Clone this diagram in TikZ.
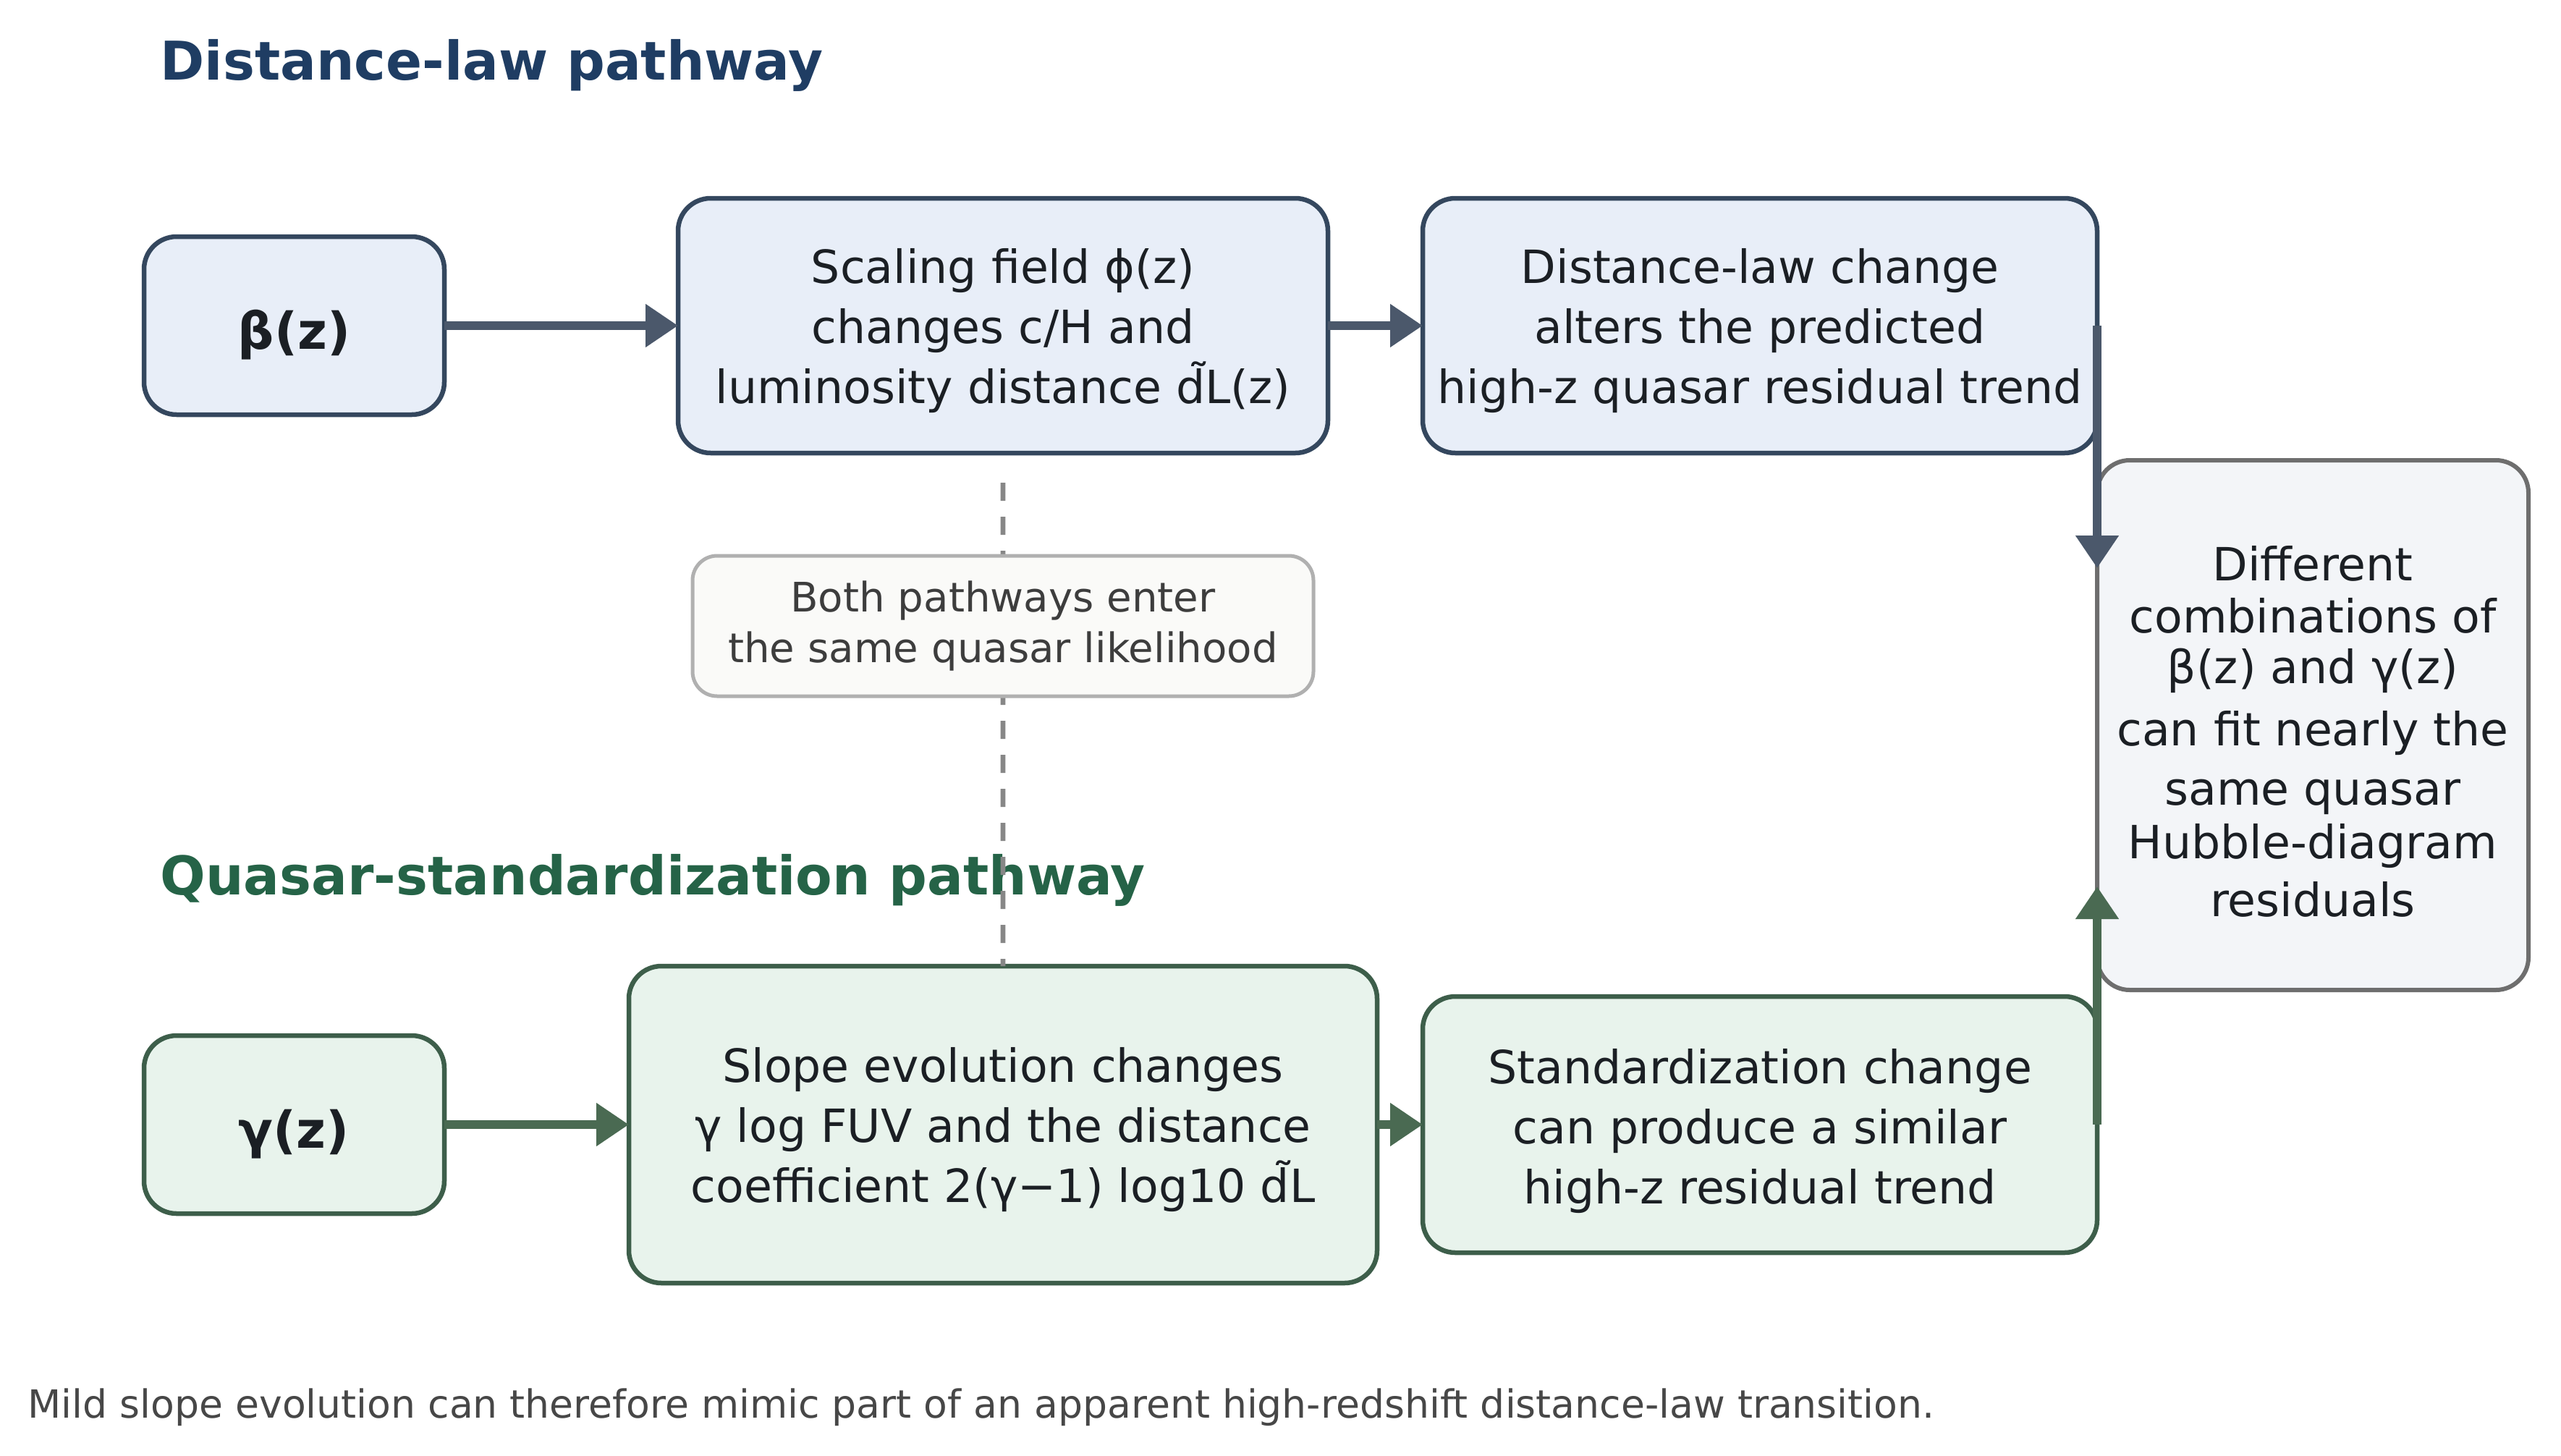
\documentclass[tikz,border=0pt]{standalone}
\usepackage{fontspec}
\setmainfont{DejaVu Sans}
\usetikzlibrary{arrows.meta,positioning}
\definecolor{cdl}{RGB}{52,71,94}
\definecolor{cdlfill}{RGB}{232,238,248}
\definecolor{cdlarr}{RGB}{75,88,107}
\definecolor{cdltitle}{RGB}{31,61,99}
\definecolor{cqs}{RGB}{61,94,74}
\definecolor{cqsfill}{RGB}{232,243,236}
\definecolor{cqsarr}{RGB}{74,106,82}
\definecolor{cqstitle}{RGB}{37,99,71}
\definecolor{cres}{RGB}{110,110,110}
\definecolor{cresfill}{RGB}{243,245,248}
\definecolor{cnote}{RGB}{176,176,176}
\definecolor{cnotefill}{RGB}{250,250,248}
\definecolor{ctext}{RGB}{27,31,36}
% taller first line, pushes a centred text block down a little
\newcommand{\liftline}[1][17.7pt]{\rule{0pt}{#1}}
\tikzset{
  box/.style={rectangle,rounded corners=0.45cm,line width=0.065cm,inner sep=0pt,
    outer sep=0pt,align=center,text=ctext,font=\fontsize{18}{23.7}\selectfont},
  % distance-law pathway in blue, standardization pathway in green
  dl/.style={fill=cdlfill,draw=cdl},
  qs/.style={fill=cqsfill,draw=cqs},
  res/.style={fill=cresfill,draw=cres,line width=0.06cm},
  var/.style={font=\fontsize{20}{24}\selectfont\bfseries,
    execute at begin node={\rule{0pt}{22.8pt}}},
  note/.style={rectangle,rounded corners=0.34cm,fill=cnotefill,draw=cnote,
    line width=0.05cm,inner sep=0pt,outer sep=0pt,align=center,text=black!76,
    font=\fontsize{16}{19.8}\selectfont},
  head/.style={anchor=west,inner sep=0pt,font=\fontsize{21}{25}\selectfont\bfseries},
  link/.style={draw=black!47,line width=0.067cm,dash pattern=on 0.25cm off 0.22cm},
  arr/.style={-{Triangle[length=0.45cm,width=0.57cm]},line width=0.12cm}
}
\begin{document}
\begin{tikzpicture}[node distance=1cm]
  \useasboundingbox (0,0) rectangle (35.39,-20.12);
  \node[head,text=cdltitle] (t1) at (2.21,-0.905) {Distance-law pathway};
  \node[box,dl,var,minimum width=4.15cm,minimum height=2.46cm] (beta) at (4.065,-4.50) {β(z)};
  \node[box,dl,minimum width=8.98cm,minimum height=3.52cm,right=3.23cm of beta] (scal)
    {\liftline Scaling field ϕ(z)\\changes c/H and\\luminosity distance d̃L(z)};
  \node[box,dl,minimum width=9.32cm,minimum height=3.52cm,right=1.31cm of scal] (dist)
    {\liftline Distance-law change\\alters the predicted\\high-z quasar residual trend};

  \node[head,text=cqstitle] (t2) at (2.21,-12.165) {Quasar-standardization pathway};
  \node[box,qs,var,minimum width=4.15cm,minimum height=2.46cm,below=8.58cm of beta] (gam) {γ(z)};
  \node[box,qs,minimum width=10.34cm,minimum height=4.38cm,right=2.55cm of gam] (slope)
    {\liftline Slope evolution changes\\γ log FUV and the distance\\coefficient 2(γ−1) log10 d̃L};
  \node[box,qs,minimum width=9.32cm,minimum height=3.54cm,right=0.63cm of slope] (std)
    {\liftline[18.8pt]Standardization change\\can produce a similar\\high-z residual trend};

  \node[box,res,minimum width=5.96cm,minimum height=7.32cm,font=\fontsize{18}{19.9}\selectfont]
    (fit) at (31.96,-10.02)
    {\liftline[18.8pt]Different\\[0.6pt]combinations of\\β(z) and γ(z)\\[4.5pt]can fit nearly the\\[3.7pt]same quasar\\[0.9pt]Hubble-diagram\\[3.1pt]residuals};

  \draw[link] ([yshift=-0.41cm]scal.south) -- (slope.north);
  \node[note,minimum width=8.58cm,minimum height=1.94cm,below=1.42cm of scal] (both)
    {Both pathways enter\\the same quasar likelihood};

  \draw[arr,cdlarr] (beta) -- (scal);
  \draw[arr,cdlarr] (scal) -- (dist);
  \coordinate (dtip) at (dist.east |- 0,-7.85);
  \draw[arr,cdlarr] (dist.east) -- (dtip);
  \draw[arr,cqsarr] (gam) -- (slope);
  \draw[arr,cqsarr] (slope) -- (std);
  \coordinate (stip) at (std.east |- 0,-12.25);
  \draw[arr,cqsarr] (std.east) -- (stip);

  \node[anchor=west,inner sep=0pt,text=black!72,font=\fontsize{15.25}{18}\selectfont] (cap) at (0.38,-19.45)
    {Mild slope evolution can therefore mimic part of an apparent high-redshift distance-law transition.};
\end{tikzpicture}
\end{document}
